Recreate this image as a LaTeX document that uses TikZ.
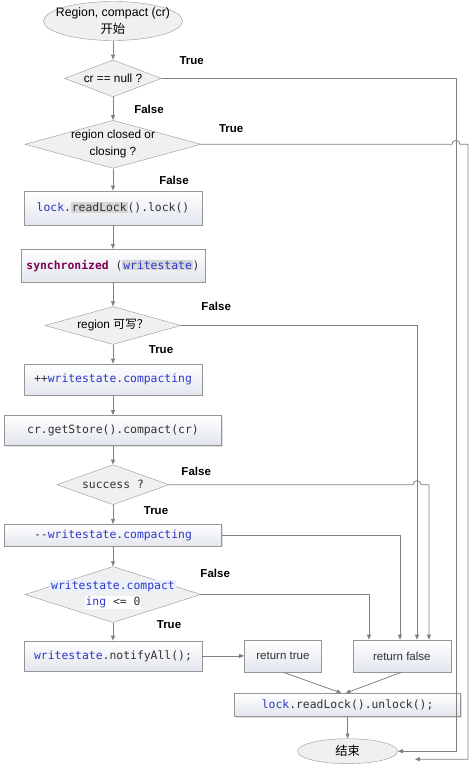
\documentclass[tikz,border=0pt]{standalone}
\usepackage{fontspec}
\setmainfont{Liberation Sans}
\setmonofont{DejaVu Sans Mono}
\newfontfamily\cjk{Noto Sans CJK SC}
\usetikzlibrary{arrows.meta,positioning,shapes.geometric,shadows,calc}
\definecolor{linegray}{RGB}{128,128,128}
\definecolor{edgegray}{RGB}{150,150,150}
\definecolor{shapefill}{RGB}{240,240,240}
\definecolor{boxbottom}{RGB}{226,230,237}
\definecolor{codeblue}{RGB}{45,55,200}
\definecolor{codetext}{RGB}{50,50,50}
\definecolor{keyword}{RGB}{127,0,85}
\definecolor{hlgray}{RGB}{214,214,214}
\definecolor{hlblue}{RGB}{234,241,252}
\newcommand{\fld}[1]{\textcolor{codeblue}{#1}}
\newcommand{\kwd}[1]{\textcolor{keyword}{\bfseries #1}}
\newcommand{\hl}[2][hlgray]{{\fboxsep=0.8pt\colorbox{#1}{#2}}}
\tikzset{
terminal/.style={draw=edgegray,fill=shapefill,ellipse,inner xsep=-14pt,inner ysep=-6pt,align=center,font=\fontsize{12.3}{17}\selectfont},
decision/.style={draw=edgegray,fill=shapefill,diamond,inner xsep=-20pt,inner ysep=-5pt,align=center,font=\fontsize{11.8}{17}\selectfont},
code/.style={font=\ttfamily\fontsize{11.4}{16}\selectfont,text=codetext},
process/.style={draw=edgegray,top color=white,bottom color=boxbottom,inner sep=0pt,align=center,code,
  drop shadow={shadow xshift=1pt,shadow yshift=-1.2pt,opacity=.25}},
flow/.style={draw=linegray,line width=.8pt,-{Triangle[length=5pt,width=4pt]}},
cond/.style={font=\bfseries\fontsize{11.5}{13}\selectfont}
}
\begin{document}
\begin{tikzpicture}[x=1pt,y=1pt]
\useasboundingbox (0,0) rectangle (474,-769);
% main column
\node[terminal,minimum width=139pt,minimum height=39pt](start) at (113,-21){Region, compact (cr)\\{\cjk 开始}};
\node[decision,below=19pt of start,shape aspect=2.6,minimum width=97pt,minimum height=37pt](isnull){cr == null ?};
\node[decision,below=23pt of isnull,shape aspect=3.6,minimum width=176pt,minimum height=48pt](closed){region closed or\\closing ?};
\node[process,below=22pt of closed,minimum width=178pt,minimum height=34pt](lock){\fld{lock}.\hl{readLock}().lock()};
\node[process,below=24pt of lock,minimum width=184pt,minimum height=33pt](sync){\kwd{synchronized} (\hl{\fld{writestate}})};
\node[decision,below=24pt of sync,shape aspect=3.5,minimum width=136pt,minimum height=38pt](writable){region {\cjk 可写？}};
\node[process,below=19pt of writable,minimum width=178pt,minimum height=31pt](inc){++\fld{writestate.compacting}};
\node[process,below=20pt of inc,minimum width=217pt,minimum height=30pt](compact){cr.getStore().compact(cr)};
\node[decision,code,below=19pt of compact,shape aspect=2.8,minimum width=112pt,minimum height=40pt](success){success ?};
\node[process,below=19pt of success,minimum width=217pt,minimum height=22pt](dec){{-}{-}\fld{writestate.compacting}};
\node[decision,code,below=20pt of dec,shape aspect=3.1,minimum width=176pt,minimum height=56pt](zero){\hl[hlblue]{\fld{writestate.compact}}\\\hl[white]{\fld{ing} <= 0}};
\node[process,below=18pt of zero,minimum width=178pt,minimum height=30pt](notify){\fld{writestate}.notifyAll();};
% right part
\node[process,font=\normalfont\fontsize{11.5}{13}\selectfont,right=42pt of notify,minimum width=77pt,minimum height=32pt](rettrue){return true};
\node[process,font=\normalfont\fontsize{11.5}{13}\selectfont,right=31pt of rettrue,minimum width=98pt,minimum height=32pt](retfalse){return false};
\coordinate(mid) at ($(rettrue.south west)!.5!(retfalse.south east)$);
\node[process,below=21pt of mid,minimum width=226pt,minimum height=23pt](unlock){\fld{lock}.readLock().unlock();};
\node[terminal,below=22pt of unlock,minimum width=100pt,minimum height=25pt](end){{\cjk 结束}};
\coordinate(miss) at ([xshift=17pt,yshift=-8pt]end.east);
% rails
\coordinate(railA) at (456,0);
\coordinate(railB) at (468,0);
\coordinate(railC) at (417,0);
\coordinate(railD) at (429,0);
\coordinate(railE) at (400,0);
\coordinate(railF) at (369,0);
% connectors
\draw[flow](start)--(isnull);
\draw[flow](isnull)--(closed);
\draw[flow](closed)--(lock);
\draw[flow](lock)--(sync);
\draw[flow](sync)--(writable);
\draw[flow](writable)--(inc);
\draw[flow](inc)--(compact);
\draw[flow](compact)--(success);
\draw[flow](success)--(dec);
\draw[flow](dec)--(zero);
\draw[flow](zero)--(notify);
\draw[flow](notify)--(rettrue);
\draw[flow](rettrue.south)--([xshift=-6pt]unlock.north);
\draw[flow](retfalse.south)--([xshift=-2pt]unlock.north);
\draw[flow](unlock)--(end);
\draw[flow](isnull.east)-|(railA|-end.east)--(end.east);
\draw[flow](closed.east)--($(railA|-closed.east)+(-4,0)$) arc[start angle=180,end angle=0,radius=4pt]-|(railB|-miss)--(miss);
\draw[flow](writable.east)-|(railC|-retfalse.north);
\draw[flow](success.east)--($(railC|-success.east)+(-4,0)$) arc[start angle=180,end angle=0,radius=4pt]-|(railD|-retfalse.north);
\draw[flow](dec.east)-|(railE|-retfalse.north);
\draw[flow](zero.east)-|(railF|-retfalse.north);
% labels
\node[cond] at ([shift={(30,18)}]isnull.east){True};
\node[cond] at ([shift={(36,-12)}]isnull.south){False};
\node[cond] at ([shift={(30,16)}]closed.east){True};
\node[cond] at ([shift={(61,-12)}]closed.south){False};
\node[cond] at ([shift={(35,19)}]writable.east){False};
\node[cond] at ([shift={(48,-5)}]writable.south){True};
\node[cond] at ([shift={(27,13)}]success.east){False};
\node[cond] at ([shift={(43,-6)}]success.south){True};
\node[cond] at ([shift={(14,21)}]zero.east){False};
\node[cond] at ([shift={(56,-2)}]zero.south){True};
\end{tikzpicture}
\end{document}
